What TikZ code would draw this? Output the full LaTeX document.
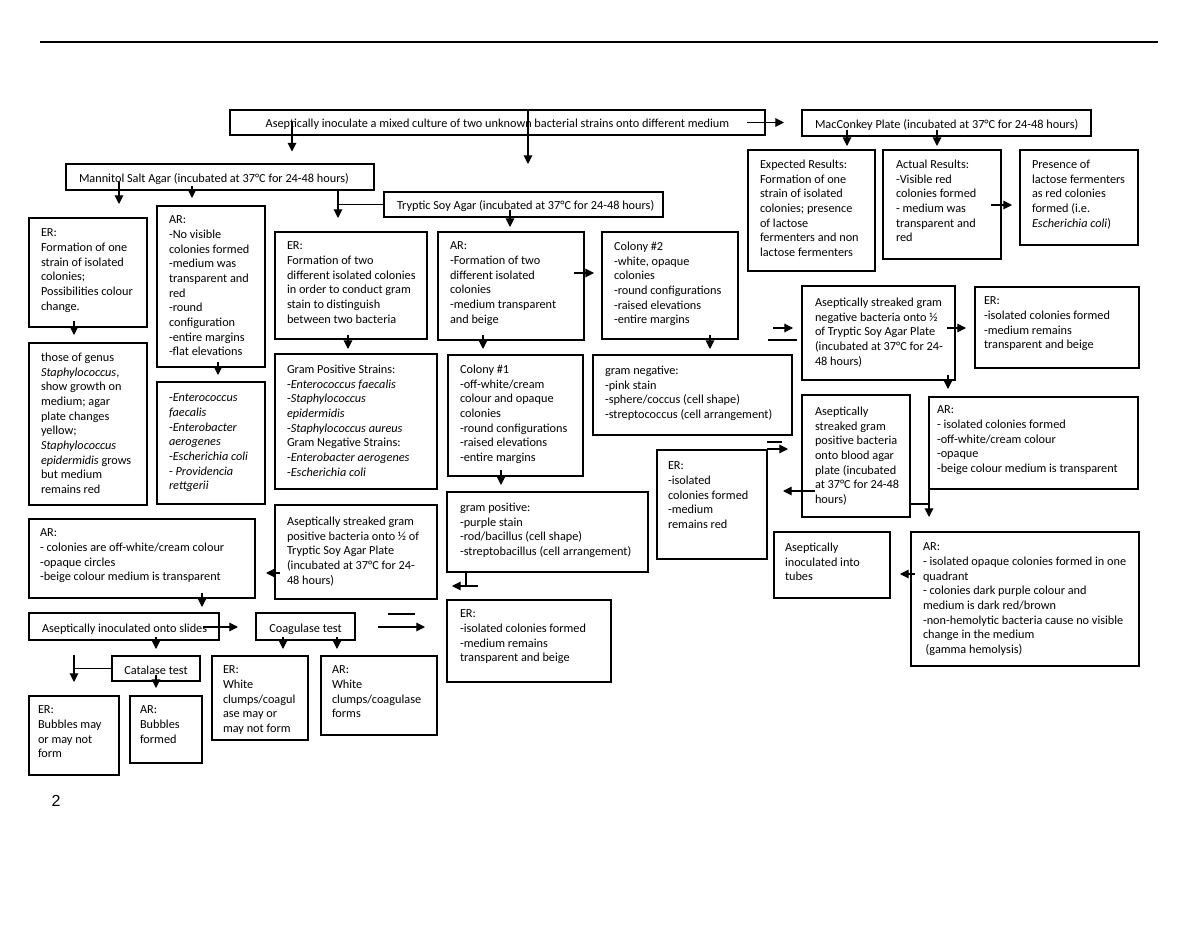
\documentclass[tikz,border=0pt]{standalone}
\usepackage{fontspec}
\setmainfont{Carlito}
\newfontfamily\digitfont{Liberation Sans}
\usetikzlibrary{arrows.meta}
\tikzset{
 bthin/.style={draw, line width=0.9pt, inner sep=0pt, outer sep=0pt},
 bmed/.style={draw, line width=1.4pt, inner sep=0pt, outer sep=0pt},
 bthick/.style={draw, line width=2.1pt, inner sep=0pt, outer sep=0pt},
 txt/.style={inner sep=0pt, outer sep=0pt, align=left, font=\fontsize{9.2}{11}\selectfont},
 arr/.style={line width=0.8pt, -{Triangle[length=6.5pt,width=6.5pt]}},
 ln/.style={line width=0.8pt},
}
% box with top-left text: style,name,x1,y1,x2,y2,dx,dy,text
\newcommand\bxo[9]{%
 \node[#1, anchor=north west, minimum width={(#5-#3)*0.75pt}, minimum height={(#6-#4)*0.75pt}] (#2) at (#3,#4) {};
 \node[txt, anchor=north west] (#2-t) at ([shift={(#7,#8)}]#2.north west) {#9};}
% single line, left text: style,name,x1,y1,x2,y2,dx,text
\newcommand\bxl[8]{%
 \node[#1, anchor=north west, minimum width={(#5-#3)*0.75pt}, minimum height={(#6-#4)*0.75pt}] (#2) at (#3,#4) {};
 \node[txt, anchor=base west] (#2-t) at ([shift={(#7,5.5)}]#2.west) {#8};}
% single line, centred text: style,name,x1,y1,x2,y2,text
\newcommand\bxc[7]{%
 \node[#1, anchor=north west, minimum width={(#5-#3)*0.75pt}, minimum height={(#6-#4)*0.75pt}] (#2) at (#3,#4) {};
 \node[txt, anchor=base] (#2-t) at ([shift={(0,5.5)}]#2.center) {#7};}
\begin{document}
\begin{tikzpicture}[x=0.75pt,y=-0.75pt]
\fill[white] (0,0) rectangle (1200,927);
\useasboundingbox (0,0) rectangle (1200,927);
\coordinate (L1) at (40,42); \coordinate (L2) at (1158,42);
\draw[line width=1.5pt] (L1) -- (L2);

% ---------- boxes ----------
\bxc{bthick}{A}{230}{110}{765}{135}{Aseptically inoculate a mixed culture of two unknown bacterial strains onto different medium}
\bxl{bmed}{Mc}{802}{110}{1091}{136}{13}{MacConkey Plate (incubated at 37°C for 24-48 hours)}
\bxo{bmed}{Exp}{748}{150}{875}{271}{12}{10}{Expected Results:\\Formation of one\\strain of isolated\\colonies; presence\\of lactose\\fermenters and non\\lactose fermenters}
\bxo{bthick}{Act}{883}{150}{1001}{259}{13}{10}{Actual Results:\\-Visible red\\colonies formed\\- medium was\\transparent and\\red}
\bxo{bmed}{Pre}{1020}{150}{1138}{245}{12}{10}{Presence of\\lactose fermenters\\as red colonies\\formed (i.e.\\\textit{Escherichia coli})}
\bxl{bthick}{Ma}{66}{164}{374}{190}{13}{Mannitol Salt Agar (incubated at 37°C for 24-48 hours)}
\bxl{bthick}{Tr}{384}{192}{663}{217}{13}{Tryptic Soy Agar (incubated at 37°C for 24-48 hours)}
\bxo{bthick}{ERa}{29}{218}{147}{327}{12}{11}{ER:\\Formation of one\\strain of isolated\\colonies;\\Possibilities colour\\change.}
\bxo{bmed}{ARa}{157}{206}{265}{367}{12}{10}{AR:\\-No visible\\colonies formed\\-medium was\\transparent and\\red\\-round\\configuration\\-entire margins\\-flat elevations}
\bxo{bthick}{Tho}{29}{343}{147}{505}{12}{10}{those of genus\\\textit{Staphylococcus},\\show growth on\\medium; agar\\plate changes\\yellow;\\\textit{Staphylococcus}\\\textit{epidermidis} grows\\but medium\\remains red}
\bxo{bthin}{Spc}{157}{382}{265}{504}{12}{12}{-\textit{Enterococcus}\\\textit{faecalis}\\-\textit{Enterobacter}\\\textit{aerogenes}\\-\textit{Escherichia coli}\\- \textit{Providencia}\\\textit{rettgerii}}
\bxo{bthin}{ERb}{275}{232}{427}{339}{12}{10}{ER:\\Formation of two\\different isolated colonies\\in order to conduct gram\\stain to distinguish\\between two bacteria}
\bxo{bthick}{GPS}{275}{354}{437}{489}{12}{11}{Gram Positive Strains:\\-\textit{Enterococcus faecalis}\\-\textit{Staphylococcus}\\\textit{epidermidis}\\-\textit{Staphylococcus aureus}\\Gram Negative Strains:\\-\textit{Enterobacter aerogenes}\\-\textit{Escherichia coli}}
\bxo{bthick}{ARb}{438}{232}{584}{340}{12}{10}{AR:\\-Formation of two\\different isolated\\colonies\\-medium transparent\\and beige}
\bxo{bthick}{CoB}{602}{232}{738}{339}{12}{10}{Colony \#2\\-white, opaque\\colonies\\-round configurations\\-raised elevations\\-entire margins}
\bxo{bmed}{CoA}{448}{355}{583}{476}{12}{10}{Colony \#1\\-off-white/cream\\colour and opaque\\colonies\\-round configurations\\-raised elevations\\-entire margins}
\bxo{bthin}{GN}{593}{355}{792}{435}{12}{11}{gram negative:\\-pink stain\\-sphere/coccus (cell shape)\\-streptococcus (cell arrangement)}
\bxo{bthin}{GP}{447}{492}{648}{572}{13}{11}{gram positive:\\-purple stain\\-rod/bacillus (cell shape)\\-streptobacillus (cell arrangement)}
\bxo{bmed}{ERc}{447}{600}{611}{682}{13}{10}{ER:\\-isolated colonies formed\\-medium remains\\transparent and beige}
\bxo{bmed}{GNS}{802}{286}{955}{380}{13}{12}{Aseptically streaked gram\\negative bacteria onto ½\\of Tryptic Soy Agar Plate\\(incubated at 37°C for 24-\\48 hours)}
\bxo{bthick}{ERd}{975}{287}{1139}{368}{9}{10}{ER:\\-isolated colonies formed\\-medium remains\\transparent and beige}
\bxo{bmed}{ARc}{929}{397}{1138}{489}{8}{9}{AR:\\- isolated colonies formed\\-off-white/cream colour\\-opaque\\-beige colour medium is transparent}
\bxo{bthick}{BA}{802}{395}{910}{517}{13}{12}{Aseptically\\streaked gram\\positive bacteria\\onto blood agar\\plate (incubated\\at 37°C for 24-48\\hours)}
\bxo{bthick}{ERe}{657}{450}{767}{559}{11}{12}{ER:\\-isolated\\colonies formed\\-medium\\remains red}
\bxo{bthin}{Tub}{774}{532}{890}{598}{11}{11}{Aseptically\\inoculated into\\tubes}
\bxo{bthick}{ARd}{911}{532}{1139}{666}{12}{11}{AR:\\- isolated opaque colonies formed in one\\quadrant\\- colonies dark purple colour and\\medium is dark red/brown\\-non-hemolytic bacteria cause no visible\\change in the medium\\\hspace{2pt}(gamma hemolysis)}
\bxo{bthin}{ARe}{29}{519}{255}{598}{11}{10}{AR:\\- colonies are off-white/cream colour\\-opaque circles\\-beige colour medium is transparent}
\bxo{bthick}{SGP}{275}{505}{437}{599}{12}{12}{Aseptically streaked gram\\positive bacteria onto ½ of\\Tryptic Soy Agar Plate\\(incubated at 37°C for 24-\\48 hours)}
\bxl{bthick}{Sl}{29}{613}{219}{640}{13}{Aseptically inoculated onto slides}
\bxc{bthick}{Coag}{256}{613}{355}{640}{Coagulase test}
\bxc{bthick}{Cat}{112}{656}{200}{681}{Catalase test}
\bxo{bthick}{ERf}{29}{696}{119}{775}{9}{10}{ER:\\Bubbles may\\or may not\\form}
\bxo{bthick}{ARf}{130}{696}{202}{763}{10}{10}{AR:\\Bubbles\\formed}
\bxo{bthick}{ERg}{212}{656}{308}{740}{11}{10}{ER:\\White\\clumps/coagul\\ase may or\\may not form}
\bxo{bthin}{ARg}{321}{656}{437}{735}{11}{10}{AR:\\White\\clumps/coagulase\\forms}
\node[font=\digitfont\fontsize{12}{14}\selectfont, inner sep=0pt] (pg) at (56,801) {2};

% ---------- connectors ----------
\draw[arr] ([shift={(62,0)}]A.west) -- ++(0,29);
\draw[arr] ([shift={(298,0)}]A.north west) -- ++(0,54);
\draw[arr] ([shift={(-18,0)}]A.east) -- ++(37,0);
\draw[arr] ([shift={(45,20)}]Mc.north west) -- ++(0,16);
\draw[arr] ([shift={(135,20)}]Mc.north west) -- ++(0,16);
\draw[arr] ([shift={(108,55)}]Act.north west) -- ++(21,0);
\draw[arr] ([shift={(53,18)}]Ma.north west) -- ++(0,22);
\draw[arr] ([shift={(126,22)}]Ma.north west) -- ++(0,12);
\draw[arr] ([shift={(272,0)}]Ma.south west) -- ++(0,28);
\draw[ln] (Tr.west) -- ++(-46,0);
\draw[arr] ([shift={(126,18)}]Tr.north west) -- ++(0,17);
\draw[arr] ([shift={(45,-6)}]ERa.south west) -- ++(0,14);
\draw[arr] ([shift={(61,-5)}]ARa.south west) -- ++(0,13);
\draw[arr] ([shift={(73,-4)}]ERb.south west) -- ++(0,14);
\draw[arr] ([shift={(45,-5)}]ARb.south west) -- ++(0,14);
\draw[arr] ([shift={(136,41)}]ARb.north west) -- ++(20,0);
\draw[arr] ([shift={(108,-4)}]CoB.south west) -- ++(0,14);
\draw[arr] ([shift={(53,-6)}]CoA.south west) -- ++(0,15);
\draw[ln] ([shift={(19,0)}]GP.south west) -- ++(0,14);
\draw[arr] ([shift={(31,14)}]GP.south west) -- ++(-26,0);
\draw[arr] ([shift={(-29,42)}]GNS.north west) -- ++(20,0);
\draw[ln] ([shift={(-34,54)}]GNS.north west) -- ++(29,0);
\draw[arr] ([shift={(-8,42)}]GNS.north east) -- ++(19,0);
\draw[arr] ([shift={(-7,-5)}]GNS.south east) -- ++(0,14);
\draw[ln] ([shift={(0,-8)}]ERe.north east) -- ++(15,0);
\draw[arr] ([shift={(0,-1)}]ERe.north east) -- ++(21,0);
\draw[arr] ([shift={(13,96)}]BA.north west) -- ++(-32,0);
\draw[arr] (ARc.south west) -- ++(0,28);
\draw[ln] ([shift={(0,-13)}]BA.south east) -- ++(19,0);
\draw[arr] ([shift={(4,42)}]ARd.north west) -- ++(-15,0);
\draw[arr] ([shift={(5,68)}]SGP.north west) -- ++(-14,0);
\draw[arr] ([shift={(173,74)}]ARe.north west) -- ++(0,14);
\draw[arr] ([shift={(174,14)}]Sl.north west) -- ++(35,0);
\draw[arr] ([shift={(23,14)}]Coag.north east) -- ++(47,0);
\draw[ln] ([shift={(33,1)}]Coag.north east) -- ++(27,0);
\draw[arr] ([shift={(27,24)}]Coag.north west) -- ++(0,12);
\draw[arr] ([shift={(81,24)}]Coag.north west) -- ++(0,12);
\draw[arr] ([shift={(127,24)}]Sl.north west) -- ++(0,12);
\draw[ln] (Cat.west) -- ++(-38,0);
\draw[arr] ([shift={(-38,-1)}]Cat.north west) -- ++(0,27);
\draw[arr] ([shift={(44,19)}]Cat.north west) -- ++(0,13);
\end{tikzpicture}
\end{document}
